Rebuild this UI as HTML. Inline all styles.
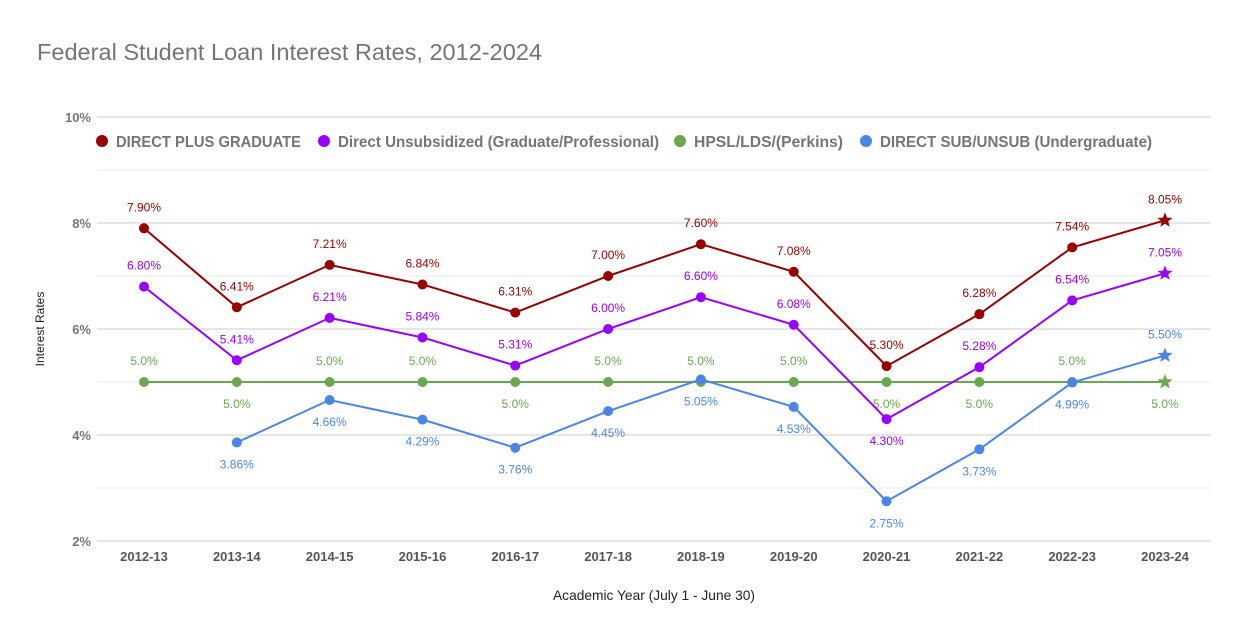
<!DOCTYPE html>
<html><head><meta charset="utf-8"><style>
body{margin:0;background:#fff;font-family:"Liberation Sans",Roboto,sans-serif}
</style></head><body>
<svg id="c" width="1243" height="636" xmlns="http://www.w3.org/2000/svg" font-family="Liberation Sans, sans-serif">
<text x="37" y="60" font-size="23" fill="#757575" textLength="505" lengthAdjust="spacingAndGlyphs">Federal Student Loan Interest Rates, 2012-2024</text>
<text x="654" y="600" font-size="14" fill="#222" text-anchor="middle" textLength="202" lengthAdjust="spacingAndGlyphs">Academic Year (July 1 - June 30)</text>
<text transform="translate(44,329) rotate(-90)" font-size="12" fill="#222" text-anchor="middle">Interest Rates</text>
<g id="grid"></g><g id="axes"></g><g id="series"></g>
<g font-size="16" font-weight="bold" fill="#757575">
<circle cx="102" cy="141" r="6" fill="#990000"/><text x="116" y="147" textLength="185" lengthAdjust="spacingAndGlyphs">DIRECT PLUS GRADUATE</text>
<circle cx="324" cy="141" r="6" fill="#9900ff"/><text x="338" y="147" textLength="321" lengthAdjust="spacingAndGlyphs">Direct Unsubsidized (Graduate/Professional)</text>
<circle cx="680" cy="141" r="6" fill="#6aa84f"/><text x="694" y="147" textLength="149" lengthAdjust="spacingAndGlyphs">HPSL/LDS/(Perkins)</text>
<circle cx="866" cy="141" r="6" fill="#4a86e8"/><text x="880" y="147" textLength="272" lengthAdjust="spacingAndGlyphs">DIRECT SUB/UNSUB (Undergraduate)</text>
</g>
</svg>
<script>
const categories=["2012-13","2013-14","2014-15","2015-16","2016-17","2017-18","2018-19","2019-20","2020-21","2021-22","2022-23","2023-24"];
const plusGrad=[7.90,6.41,7.21,6.84,6.31,7.00,7.60,7.08,5.30,6.28,7.54,8.05];
const unsubGrad=[6.80,5.41,6.21,5.84,5.31,6.00,6.60,6.08,4.30,5.28,6.54,7.05];
const perkins=[5.0,5.0,5.0,5.0,5.0,5.0,5.0,5.0,5.0,5.0,5.0,5.0];
const undergrad=[null,3.86,4.66,4.29,3.76,4.45,5.05,4.53,2.75,3.73,4.99,5.50];
const perkinsLabelBelow=[0,1,0,0,1,0,0,0,1,1,0,1];
const yTicks=[2,4,6,8,10];
const ns="http://www.w3.org/2000/svg";
const X=i=>144+i*(1165-144)/11;
const Y=v=>541-(v-2)*53;
function mk(t,a,p){const e=document.createElementNS(ns,t);for(const k in a)e.setAttribute(k,a[k]);p.appendChild(e);return e;}
const grid=document.getElementById('grid'),axes=document.getElementById('axes'),ser=document.getElementById('series');
for(let v=3;v<10;v+=2){const l=mk('line',{x1:97,x2:1211,y1:Y(v),y2:Y(v),stroke:'#ebebeb'},grid);

}
yTicks.forEach(v=>{const l=mk('line',{x1:97,x2:1211,y1:Y(v),y2:Y(v),stroke:'#ccc'},grid);


const t=mk('text',{x:91,y:Y(v)+5,'text-anchor':'end','font-size':13,'font-weight':'bold',fill:'#757575'},axes);t.textContent=v+'%';

});
categories.forEach((c,i)=>{const t=mk('text',{x:X(i),y:561,'text-anchor':'middle','font-size':13,'font-weight':'bold',fill:'#555'},axes);t.textContent=c;

});
function star(cx,cy,r){let p=[];for(let k=0;k<10;k++){const a=-Math.PI/2+k*Math.PI/5,rr=k%2?r*0.42:r;p.push((cx+rr*Math.cos(a)).toFixed(1)+','+(cy+rr*Math.sin(a)).toFixed(1));}return p.join(' ');}
function draw(vals,color,name,below,fmt){
const g=mk('g',{},ser);
const pts=vals.map((v,i)=>v==null?null:[X(i),Y(v)]).filter(p=>p);
mk('polyline',{points:pts.map(p=>p.join(',')).join(' '),fill:'none',stroke:color,'stroke-width':2},g);
vals.forEach((v,i)=>{if(v==null)return;const x=X(i),y=Y(v);let m;
if(i==vals.length-1)m=mk('polygon',{points:star(x,y,8),fill:color},g);else m=mk('circle',{cx:x,cy:y,r:5,fill:color},g);


const b=below(i);const t=mk('text',{x:x,y:b?y+26:y-17,'text-anchor':'middle','font-size':12,fill:color},g);t.textContent=fmt(v);

});}
draw(perkins,'#6aa84f','perkins',i=>perkinsLabelBelow[i],v=>v.toFixed(1)+'%');
draw(undergrad,'#4a86e8','undergrad',i=>i!=undergrad.length-1,v=>v.toFixed(2)+'%');
draw(unsubGrad,'#9900ff','unsub-grad',i=>i==8,v=>v.toFixed(2)+'%');
draw(plusGrad,'#990000','plus-grad',i=>false,v=>v.toFixed(2)+'%');
</script>
</body></html>
